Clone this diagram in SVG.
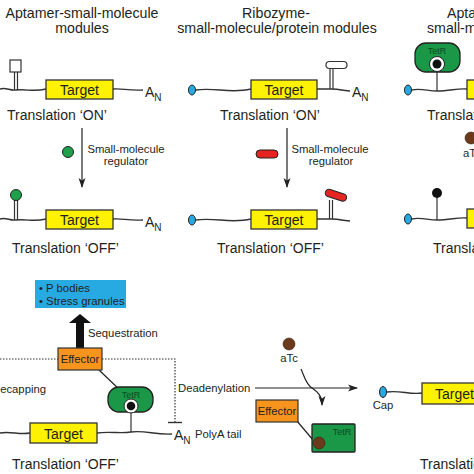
<svg xmlns="http://www.w3.org/2000/svg" width="474" height="474" viewBox="0 0 474 474">
<defs>
<style>
text{font-family:"Liberation Sans",Arial,sans-serif;fill:#231f20}
.title{font-size:14.2px}
.lbl{font-size:14px}
.sm{font-size:11.3px}
.tet{font-size:9px;fill:#0b4a22}
.rna{fill:none;stroke:#333;stroke-width:1.4}
.box{fill:#fff200;stroke:#333;stroke-width:1.3}
.cap{fill:#29a8e0;stroke:#222;stroke-width:1}
.tetr{fill:#1a9847;stroke:#222;stroke-width:1.3}
.eff{fill:#f7941d;stroke:#333;stroke-width:1.2}
.stem{stroke:#333;stroke-width:1.2;fill:none}
.atc{fill:#6b3a1c;stroke:#3a1e0c;stroke-width:0.6}
.arr{stroke:#222;stroke-width:1.2;fill:none}
.dot{stroke:#333;stroke-width:1.2;stroke-dasharray:1.5 1.5;fill:none}
</style>
<marker id="ah" markerWidth="10" markerHeight="8" refX="9" refY="4" orient="auto" markerUnits="userSpaceOnUse">
<path d="M0,0.5 L10,4 L0,7.5 L2.5,4 z" fill="#222"/>
</marker>
</defs>

<!-- titles -->
<g id="titles">
<text class="title" x="82" y="18" text-anchor="middle">Aptamer-small-molecule</text>
<text class="title" x="82" y="33" text-anchor="middle">modules</text>
<text class="title" x="276" y="18" text-anchor="middle">Ribozyme-</text>
<text class="title" x="277" y="33" text-anchor="middle">small-molecule/protein modules</text>
<text class="title" x="447" y="18">Aptamer-</text>
<text class="title" x="427" y="33">small-molecule/protein modules</text>
</g>

<g id="connectors">
<!-- panel 1 mRNAs -->
<path class="rna" d="M0,89 C6,87 10,91 16,90 C28,89 34,92 46,89"/>
<path class="rna" d="M113,89 C122,88 128,91 143,90"/>
<path class="rna" d="M0,219 C6,217 10,221 16,220 C28,219 34,222 46,219"/>
<path class="rna" d="M113,219 C122,218 128,221 143,220"/>
<!-- panel 2 mRNAs -->
<path class="rna" d="M196,90 C215,87 230,94 251,89"/>
<path class="rna" d="M317,89 L331,89 C340,89 345,91 350,91"/>
<path class="rna" d="M196,220 C215,217 230,224 251,219"/>
<path class="rna" d="M317,219 L331,219 C340,219 345,221 350,221"/>
<!-- panel 3 mRNAs -->
<path class="rna" d="M412,90 C420,88 428,91 437,91 C450,91 458,88 467,89"/>
<path class="rna" d="M412,219 C420,217 428,220 437,220 C450,220 458,217 467,218"/>
<!-- bottom mRNA -->
<path class="rna" d="M0,433 C10,431 20,435 30,433"/>
<path class="rna" d="M97,433 C110,431 120,434 131,432 C145,430 155,435 172,434"/>
<path class="rna" d="M387,392 C400,390 410,395 422,393"/>
<!-- regulator arrows -->
<line class="arr" x1="82" y1="128" x2="82" y2="187" marker-end="url(#ah)"/>
<line class="arr" x1="287" y1="128" x2="287" y2="187" marker-end="url(#ah)"/>
<!-- sequestration arrow -->
<path d="M76,348 L76,323 L69,323 L80,314 L91,323 L84,323 L84,348 z" fill="#111"/>
<!-- dotted lines -->
<path class="dot" d="M0,359 L58,359"/>
<path class="dot" d="M102,359 L175,359 L175,422"/>
<line x1="168" y1="422.5" x2="182" y2="422.5" stroke="#333" stroke-width="1.4"/>
<!-- effector to TetR -->
<line x1="99" y1="370" x2="121" y2="391" stroke="#222" stroke-width="1.2"/>
<line x1="297" y1="421" x2="313" y2="440" stroke="#222" stroke-width="1.2"/>
<!-- deadenylation arrow -->
<line class="arr" x1="255" y1="388" x2="357" y2="388" marker-end="url(#ah)"/>
<path class="arr" d="M301,369 C305,378 306,384 312,388 C318,392 322,396 322,405" marker-end="url(#ah)"/>
</g>

<!-- Panel 1 ON -->
<g id="p1-on">
<line class="stem" x1="14.5" y1="72" x2="14.5" y2="90"/>
<line class="stem" x1="17.5" y1="72" x2="17.5" y2="90"/>
<rect x="10" y="60" width="11" height="12" fill="#fff" stroke="#333" stroke-width="1.2"/>
<rect class="box" x="46" y="80" width="67" height="19"/>
<text class="lbl" x="79.5" y="95" text-anchor="middle">Target</text>
<text class="lbl" x="145" y="97">A<tspan font-size="10" dy="4">N</tspan></text>
<text class="lbl" x="7" y="120">Translation ‘ON’</text>
</g>
<g id="p1-reg">
<circle cx="68" cy="152" r="5.5" fill="#1fa04a" stroke="#222" stroke-width="1"/>
<text class="sm" x="126" y="153" text-anchor="middle">Small-molecule</text>
<text class="sm" x="126" y="165" text-anchor="middle">regulator</text>
</g>
<g id="p1-off">
<line class="stem" x1="14.5" y1="200" x2="14.5" y2="220"/>
<line class="stem" x1="17.5" y1="200" x2="17.5" y2="220"/>
<circle cx="16" cy="195" r="5.5" fill="#1fa04a" stroke="#222" stroke-width="1"/>
<rect class="box" x="46" y="210" width="67" height="19"/>
<text class="lbl" x="79.5" y="225" text-anchor="middle">Target</text>
<text class="lbl" x="145" y="227">A<tspan font-size="10" dy="4">N</tspan></text>
<text class="lbl" x="12" y="253">Translation ‘OFF’</text>
</g>

<!-- Panel 2 ON -->
<g id="p2-on">
<ellipse class="cap" cx="192" cy="90" rx="3.5" ry="5"/>
<rect class="box" x="251" y="80" width="66" height="19"/>
<text class="lbl" x="284" y="95" text-anchor="middle">Target</text>
<line class="stem" x1="330" y1="68" x2="330" y2="89"/>
<line class="stem" x1="333" y1="68" x2="333" y2="89"/>
<rect x="326" y="61.5" width="21" height="7" rx="3.5" fill="#fff" stroke="#333" stroke-width="1.2"/>
<text class="lbl" x="352" y="97">A<tspan font-size="10" dy="4">N</tspan></text>
<text class="lbl" x="220" y="120">Translation ‘ON’</text>
</g>
<g id="p2-reg">
<rect x="256" y="150" width="22" height="8" rx="4" fill="#e52521" stroke="#222" stroke-width="1"/>
<text class="sm" x="330" y="153" text-anchor="middle">Small-molecule</text>
<text class="sm" x="331" y="165" text-anchor="middle">regulator</text>
</g>
<g id="p2-off">
<ellipse class="cap" cx="192" cy="220" rx="3.5" ry="5"/>
<rect class="box" x="251" y="210" width="66" height="19"/>
<text class="lbl" x="284" y="225" text-anchor="middle">Target</text>
<line class="stem" x1="329.5" y1="200" x2="329.5" y2="219"/>
<line class="stem" x1="332.5" y1="200" x2="332.5" y2="219"/>
<rect x="325" y="191.5" width="22" height="7.5" rx="3.7" fill="#e52521" stroke="#222" stroke-width="1" transform="rotate(18 336 195)"/>
<text class="lbl" x="217" y="253">Translation ‘OFF’</text>
</g>

<!-- Panel 3 ON -->
<g id="p3-on">
<ellipse class="cap" cx="408" cy="90" rx="3.5" ry="5"/>
<line class="stem" x1="437" y1="70" x2="437" y2="91"/>
<rect class="tetr" x="415" y="43" width="45" height="29" rx="11"/>
<circle cx="437" cy="64" r="7.5" fill="#fff" stroke="#222" stroke-width="1"/>
<circle cx="437" cy="64" r="4.5" fill="#111"/>
<text class="tet" x="437" y="54" text-anchor="middle">TetR</text>
<rect class="box" x="467" y="80" width="30" height="19"/>
<text class="lbl" x="427" y="120">Translation ‘ON’</text>
</g>
<g id="p3-atc">
<circle class="atc" cx="471" cy="138" r="6"/>
<text class="sm" x="463" y="157">aTc</text>
</g>
<g id="p3-off">
<ellipse class="cap" cx="408" cy="219" rx="3.5" ry="5"/>
<line class="stem" x1="437" y1="197" x2="437" y2="220"/>
<circle cx="437" cy="193" r="5" fill="#111"/>
<rect class="box" x="467" y="209" width="30" height="19"/>
<text class="lbl" x="433" y="253">Translation ‘OFF’</text>
</g>

<!-- bottom left -->
<g id="granules">
<rect x="35" y="280" width="91" height="28" fill="#27aae1"/>
<text class="sm" x="39" y="292">• P bodies</text>
<text class="sm" x="39" y="305">• Stress granules</text>
</g>
<text class="sm" x="88" y="337">Sequestration</text>
<g id="effector1">
<rect class="eff" x="58" y="348" width="44" height="22"/>
<text class="sm" x="80" y="363" text-anchor="middle">Effector</text>
</g>
<text class="sm" x="-8" y="393">Decapping</text>
<g id="tetr1">
<line class="stem" x1="131" y1="412" x2="131" y2="432"/>
<rect class="tetr" x="108" y="387" width="45" height="25" rx="11"/>
<circle cx="131" cy="406" r="7" fill="#fff" stroke="#222" stroke-width="1"/>
<circle cx="131" cy="406" r="4.3" fill="#111"/>
<text class="tet" x="131" y="398" text-anchor="middle">TetR</text>
</g>
<g id="target-bl">
<rect class="box" x="30" y="423" width="67" height="20"/>
<text class="lbl" x="63.5" y="438.5" text-anchor="middle">Target</text>
</g>
<text class="lbl" x="174" y="440">A<tspan font-size="10" dy="4">N</tspan></text>
<text class="sm" x="195" y="438">PolyA tail</text>
<text class="lbl" x="12" y="469">Translation ‘OFF’</text>
<text class="sm" x="178" y="392">Deadenylation</text>

<!-- bottom middle/right -->
<g id="atc2">
<circle class="atc" cx="289" cy="344" r="6"/>
<text class="sm" x="289" y="362" text-anchor="middle">aTc</text>
</g>
<g id="effector2">
<rect class="eff" x="256" y="400" width="42" height="22"/>
<text class="sm" x="277" y="415" text-anchor="middle">Effector</text>
</g>
<g id="tetr2">
<rect class="tetr" x="312" y="424" width="43" height="28" rx="1"/>
<text class="tet" x="342" y="435" text-anchor="middle">TetR</text>
<circle class="atc" cx="319" cy="443" r="6"/>
</g>
<g id="cap-br">
<ellipse class="cap" cx="383" cy="392" rx="3.5" ry="5.5"/>
<text class="sm" x="383" y="409" text-anchor="middle">Cap</text>
</g>
<g id="target-br">
<rect class="box" x="422" y="383" width="60" height="21"/>
<text class="lbl" x="435" y="398.5">Target</text>
</g>
<text class="lbl" x="420" y="469">Translation ‘ON’</text>
</svg>
